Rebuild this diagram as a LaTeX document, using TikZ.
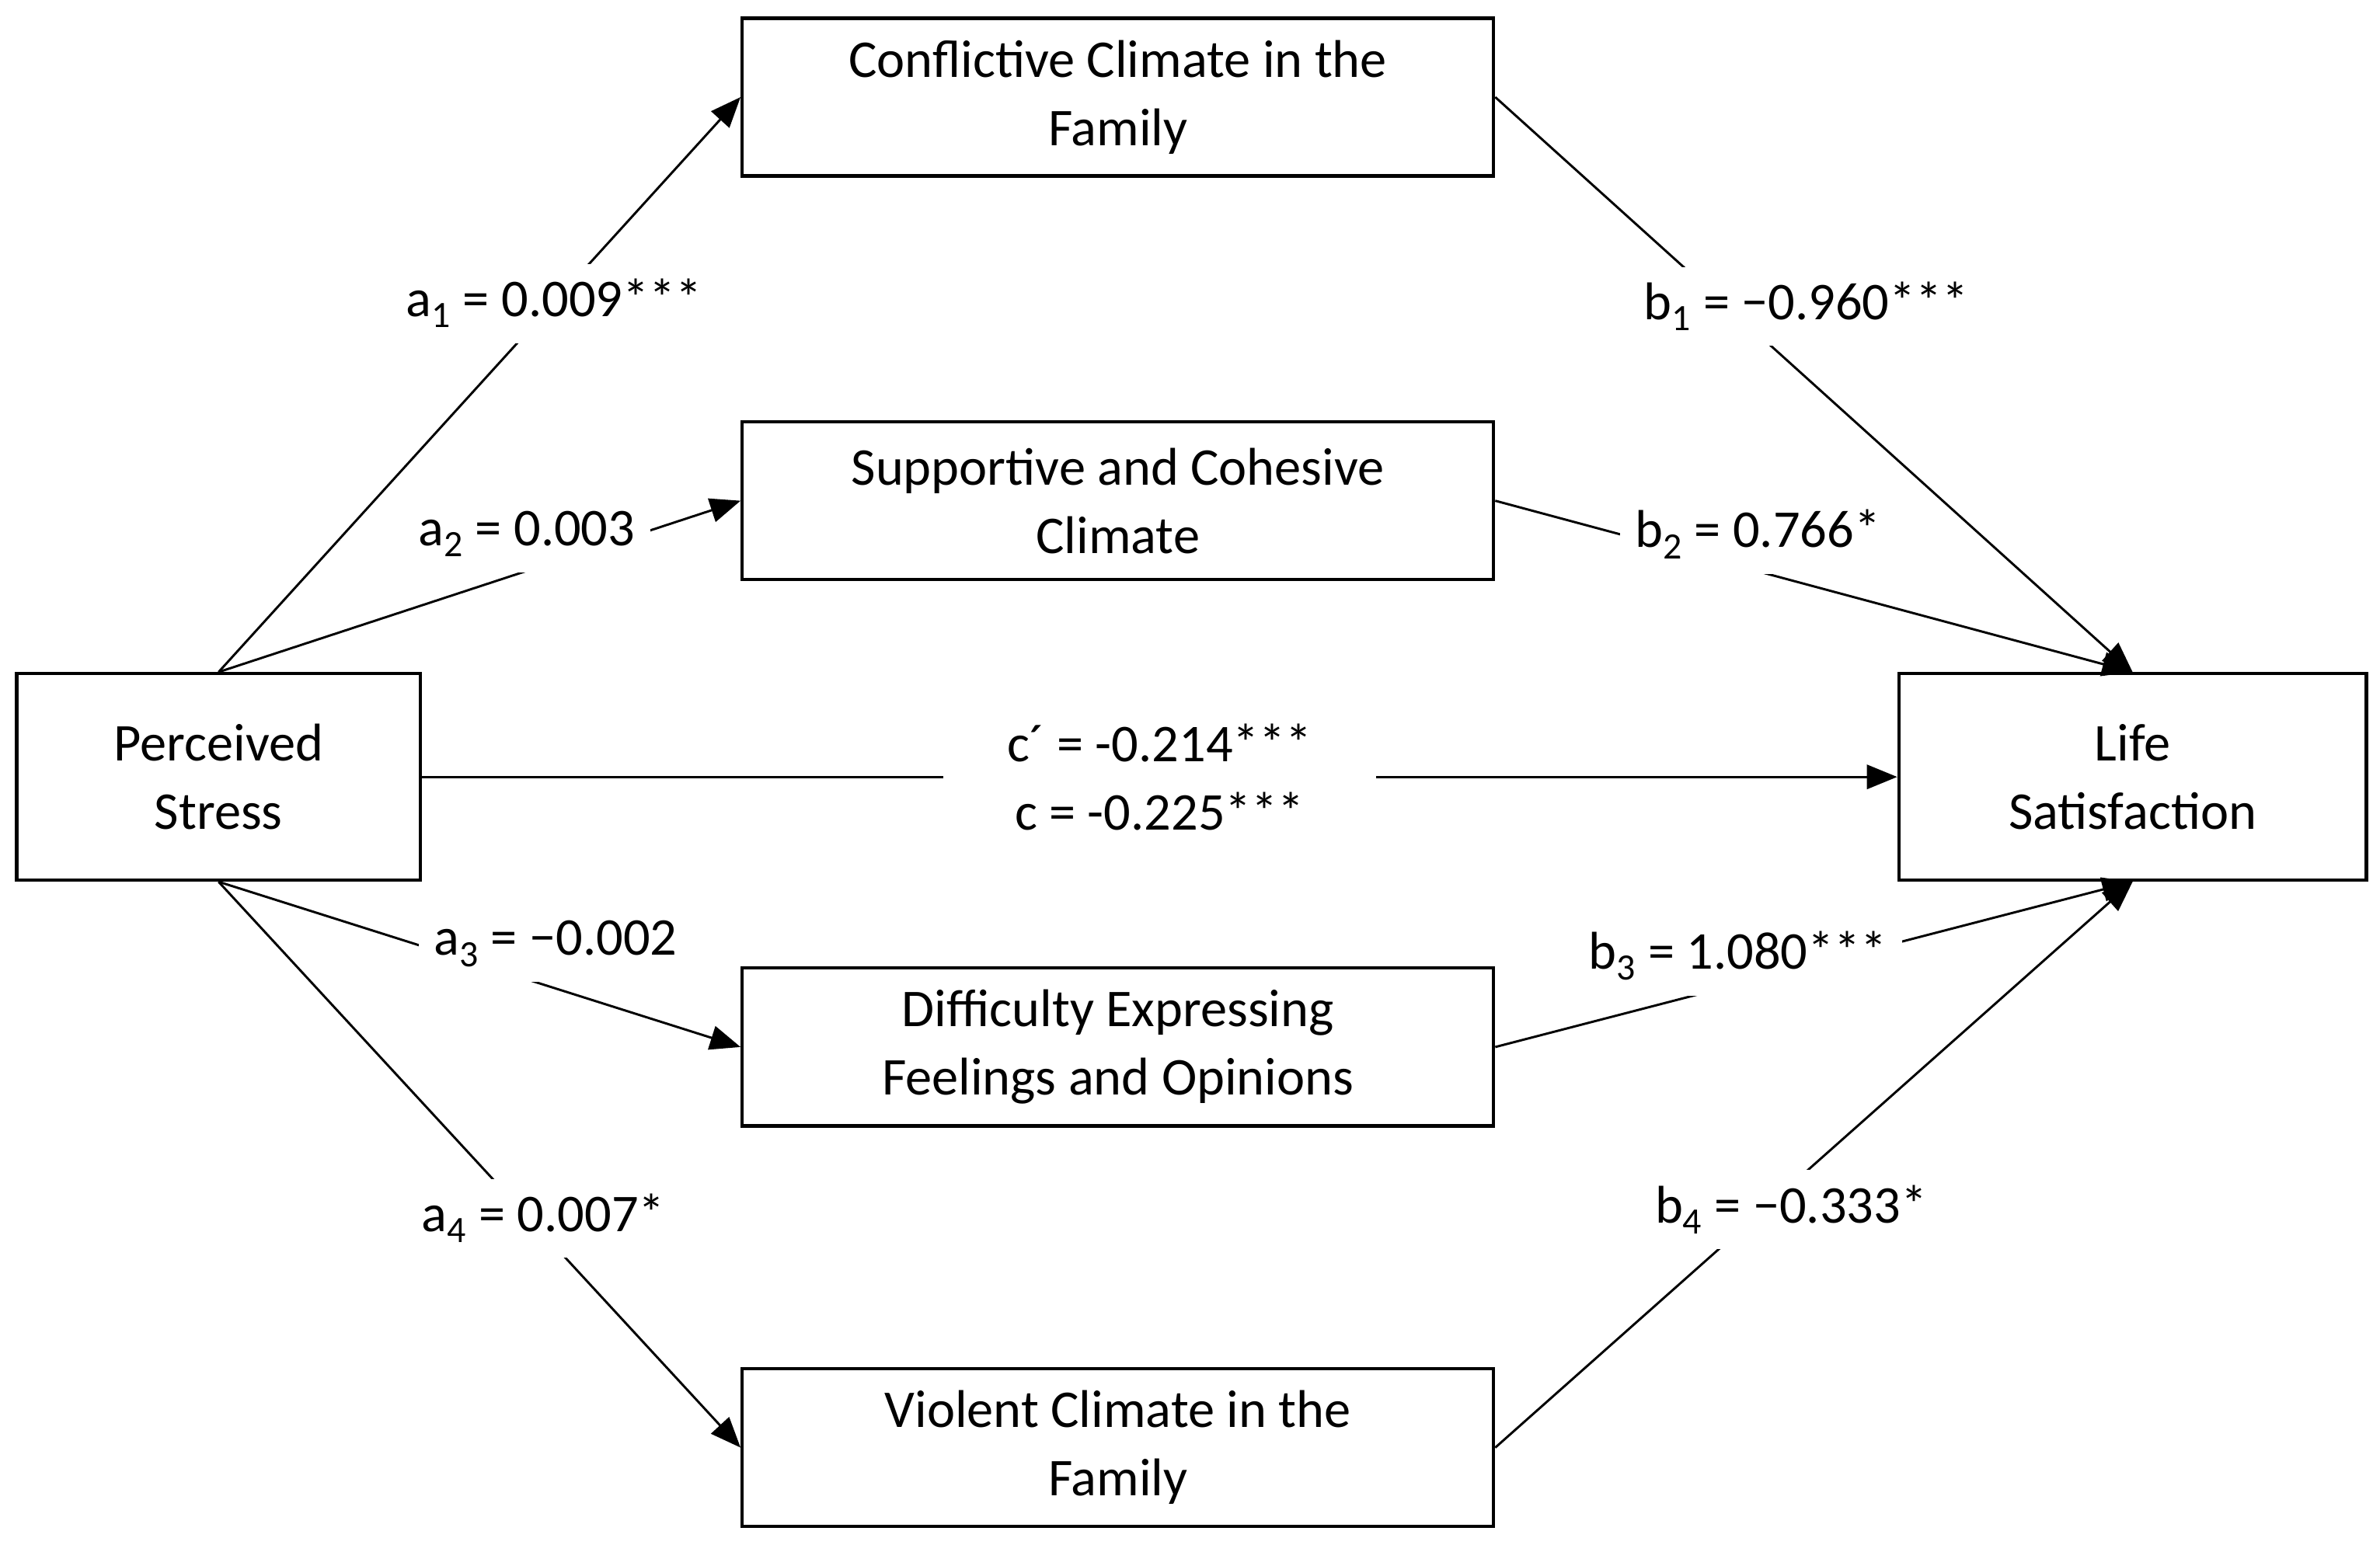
\documentclass[tikz,border=0pt]{standalone}
\usepackage{fontspec}
\setmainfont{Carlito}
\usetikzlibrary{arrows.meta}
\begin{document}
\begin{tikzpicture}[x=1pt,y=-1pt,
  box/.style={draw,line width=2.2pt,align=center,font=\fontsize{35}{45}\selectfont,inner sep=0pt},
  lab/.style={fill=white,inner sep=10pt,font=\fontsize{35}{45}\selectfont,align=center},
  con/.style={line width=1.5pt},
  arr/.style={con,-{Triangle[length=20pt,width=16pt]}}]
\useasboundingbox (0,0) rectangle (1568,1018);
\fill[white] (0,0) rectangle (1568,1018);
\node[box,minimum width=495pt,minimum height=104pt] (conf) at (736.5,64) {Conflictive Climate in the\\Family};
\node[box,minimum width=495pt,minimum height=104pt] (supp) at (736.5,330) {Supportive and Cohesive\\Climate};
\node[box,minimum width=495pt,minimum height=104pt] (diff) at (736.5,690) {Difficulty Expressing\\Feelings and Opinions};
\node[box,minimum width=495pt,minimum height=104pt] (viol) at (736.5,954) {Violent Climate in the\\Family};
\node[box,minimum width=266pt,minimum height=136pt] (ps) at (144,512) {Perceived\\Stress};
\node[box,minimum width=308pt,minimum height=136pt] (ls) at (1405,512) {Life\\Satisfaction};
\draw[arr] (ps.north) -- (conf.west);
\draw[arr] (ps.north) -- (supp.west);
\draw[arr] (ps.south) -- (diff.west);
\draw[arr] (ps.south) -- (viol.west);
\draw[arr] (conf.east) -- (ls.north);
\draw[arr] (supp.east) -- (ls.north);
\draw[arr] (diff.east) -- (ls.south);
\draw[arr] (viol.east) -- (ls.south);
\draw[arr] (ps.east) -- node[lab,minimum width=285pt,inner sep=6pt] (c) {c´ = -0.214***\\c = -0.225***} (ls.west);
\node[lab] (a1) at (365,200) {a\textsubscript{1} = 0.009***};
\node[lab] (a2) at (347,352) {a\textsubscript{2} = 0.003};
\node[lab] (a3) at (366,622) {a\textsubscript{3} = −0.002};
\node[lab] (a4) at (358,803) {a\textsubscript{4} = 0.007*};
\node[lab] (b1) at (1190,202) {b\textsubscript{1} = −0.960***};
\node[lab] (b2) at (1158,352) {b\textsubscript{2} = 0.766*};
\node[lab] (b3) at (1145,630) {b\textsubscript{3} = 1.080***};
\node[lab] (b4) at (1180,797) {b\textsubscript{4} = −0.333*};
\end{tikzpicture}
\end{document}
